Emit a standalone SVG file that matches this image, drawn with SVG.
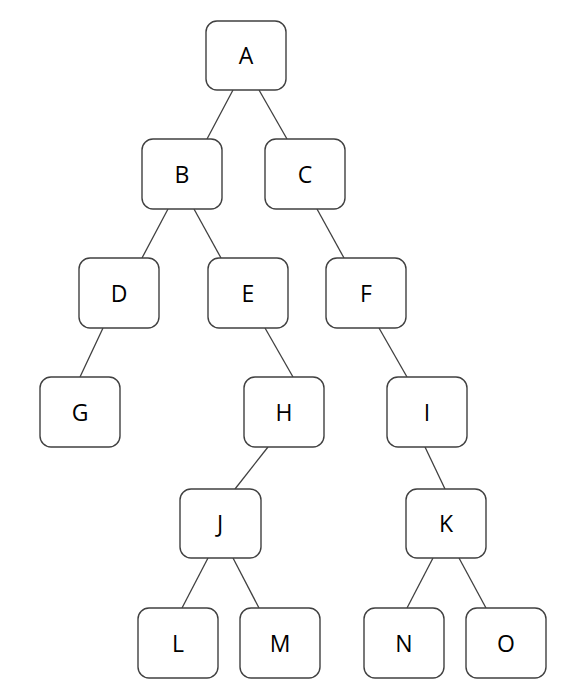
<svg xmlns="http://www.w3.org/2000/svg" width="582" height="696" viewBox="0 0 582 696">
<style>
.n rect{fill:#fff;stroke:#404040;stroke-width:1.4}
.n text{font-family:"Open Sans","Liberation Sans",sans-serif;font-size:23px;fill:#000;text-anchor:middle}
#edges line{stroke:#404040;stroke-width:1.3}
</style>
<rect width="582" height="696" fill="#fff"/>
<g id="edges">
<line x1="233" y1="90" x2="207" y2="139"/>
<line x1="259" y1="90" x2="287" y2="139"/>
<line x1="168" y1="209" x2="142" y2="258"/>
<line x1="194" y1="209" x2="221" y2="258"/>
<line x1="317" y1="209" x2="344" y2="258"/>
<line x1="103" y1="328" x2="80" y2="377"/>
<line x1="265" y1="328" x2="293" y2="377"/>
<line x1="379" y1="328" x2="407" y2="377"/>
<line x1="268" y1="447" x2="235" y2="489"/>
<line x1="425" y1="447" x2="445" y2="489"/>
<line x1="208" y1="558" x2="182" y2="608"/>
<line x1="233" y1="558" x2="259" y2="608"/>
<line x1="433" y1="558" x2="407" y2="608"/>
<line x1="459" y1="558" x2="486" y2="608"/>
</g>
<g id="A" class="n"><rect x="206" y="21" width="80" height="69" rx="11"/><text x="246" y="64">A</text></g>
<g id="B" class="n"><rect x="142" y="139" width="80" height="70" rx="11"/><text x="182" y="183">B</text></g>
<g id="C" class="n"><rect x="265" y="139" width="80" height="70" rx="11"/><text x="305" y="183">C</text></g>
<g id="D" class="n"><rect x="79" y="258" width="80" height="70" rx="11"/><text x="119" y="302">D</text></g>
<g id="E" class="n"><rect x="208" y="258" width="80" height="70" rx="11"/><text x="248" y="302">E</text></g>
<g id="F" class="n"><rect x="326" y="258" width="80" height="70" rx="11"/><text x="366" y="302">F</text></g>
<g id="G" class="n"><rect x="40" y="377" width="80" height="70" rx="11"/><text x="80" y="421">G</text></g>
<g id="H" class="n"><rect x="244" y="377" width="80" height="70" rx="11"/><text x="284" y="421">H</text></g>
<g id="I" class="n"><rect x="387" y="377" width="80" height="70" rx="11"/><text x="427" y="421">I</text></g>
<g id="J" class="n"><rect x="180" y="489" width="81" height="69" rx="11"/><text x="220" y="532">J</text></g>
<g id="K" class="n"><rect x="406" y="489" width="80" height="69" rx="11"/><text x="446" y="532">K</text></g>
<g id="L" class="n"><rect x="138" y="608" width="80" height="70" rx="11"/><text x="178" y="652">L</text></g>
<g id="M" class="n"><rect x="240" y="608" width="80" height="70" rx="11"/><text x="280" y="652">M</text></g>
<g id="N" class="n"><rect x="364" y="608" width="80" height="70" rx="11"/><text x="404" y="652">N</text></g>
<g id="O" class="n"><rect x="466" y="608" width="80" height="70" rx="11"/><text x="506" y="652">O</text></g>
</svg>
